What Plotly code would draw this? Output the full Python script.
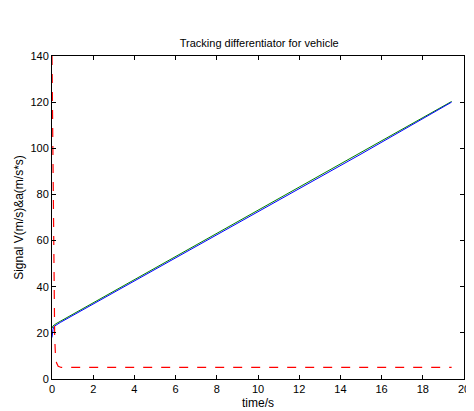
import plotly.graph_objects as go

t_v = [0, 0.02, 0.05, 0.1, 0.2, 0.4, 5, 10, 15, 19.4]
v_blue = [18, 20, 21.5, 22.8, 23.5, 24.5, 47.5, 72.5, 97.5, 120]
t_g = [0, 0.05, 0.2, 19.4]
v_green = [22, 23, 24, 120.3]
t_a = [0, 0.03, 0.06, 0.1, 0.13, 0.17, 0.22, 0.3, 0.45, 19.4]
a_red = [140, 110, 70, 35, 18, 10, 7, 5.5, 5, 5]

fig = go.Figure()
fig.add_trace(go.Scatter(x=t_g, y=v_green, mode="lines", line=dict(color="green", width=1)))
fig.add_trace(go.Scatter(x=t_v, y=v_blue, mode="lines", line=dict(color="blue", width=1)))
fig.add_trace(go.Scatter(x=t_a, y=a_red, mode="lines", line=dict(color="red", width=1.2, dash="dash")))

ax = dict(showgrid=False, zeroline=False, showline=True, mirror="ticks", linecolor="black",
          ticks="inside", ticklen=4, tickcolor="black", automargin=False,
          tickfont=dict(family="Liberation Sans", size=11, color="black"))
fig.update_layout(
    width=474, height=411, paper_bgcolor="white", plot_bgcolor="white", showlegend=False,
    margin=dict(l=44, r=18, t=48, b=40),
    title=dict(text="Tracking differentiator for vehicle", x=0.53, y=0.925, xanchor="center",
               font=dict(family="Liberation Sans", size=11, color="black")),
    xaxis=dict(ax, range=[0, 20], dtick=2, title=dict(text="time/s", standoff=4,
               font=dict(family="Liberation Sans", size=12, color="black"))),
    yaxis=dict(ax, range=[0, 140], dtick=20, title=dict(text="Signal V(m/s)&a(m/s*s)", standoff=4,
               font=dict(family="Liberation Sans", size=12, color="black"))),
)
fig.write_html("out.html")
